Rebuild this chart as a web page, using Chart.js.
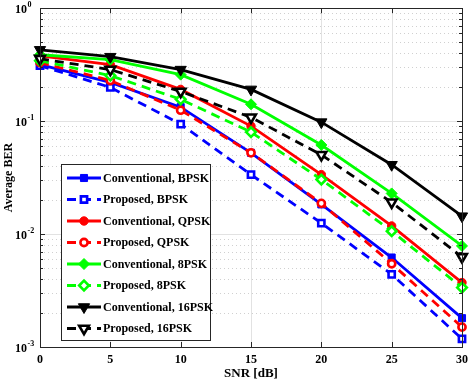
<!DOCTYPE html>
<html><head><meta charset="utf-8">
<script src="https://cdn.jsdelivr.net/npm/chart.js@4.4.0/dist/chart.umd.min.js"></script>
<style>html,body{margin:0;padding:0;background:#fff}#wrap{width:474px;height:382px}</style>
</head><body><div id="wrap"><canvas id="c" width="474" height="382"></canvas></div>
<script>
const snr = [0, 5, 10, 15, 20, 25, 30];
const convBPSK = [0.316, 0.22, 0.133, 0.0524, 0.0183, 0.0062, 0.0018];
const propBPSK = [0.31, 0.199, 0.094, 0.0336, 0.0125, 0.0044, 0.00118];
const convQPSK = [0.379, 0.316, 0.191, 0.0904, 0.0336, 0.0118, 0.00372];
const propQPSK = [0.33, 0.229, 0.125, 0.0524, 0.0187, 0.00546, 0.0015];
const conv8PSK = [0.387, 0.35, 0.258, 0.141, 0.0615, 0.0229, 0.00785];
const prop8PSK = [0.343, 0.253, 0.156, 0.080, 0.0304, 0.0106, 0.00336];
const conv16PSK = [0.428, 0.372, 0.286, 0.191, 0.098, 0.0411, 0.0144];
const prop16PSK = [0.357, 0.286, 0.183, 0.108, 0.0503, 0.0191, 0.00628];
const seriesNames = ['Conventional, BPSK','Proposed, BPSK','Conventional, QPSK','Proposed, QPSK','Conventional, 8PSK','Proposed, 8PSK','Conventional, 16PSK','Proposed, 16PSK'];
const xTickValues = [0, 5, 10, 15, 20, 25, 30];
const yDecadeValues = [1, 0.1, 0.01, 0.001];
const yDecadeExps = ['0', '-1', '-2', '-3'];

const FONT = '"Liberation Serif", "Times New Roman", serif';
const seriesData = [convBPSK, propBPSK, convQPSK, propQPSK, conv8PSK, prop8PSK, conv16PSK, prop16PSK];
const colors = ['#0000ff','#0000ff','#ff0000','#ff0000','#00ff00','#00ff00','#000000','#000000'];
const styles = ['rect','rect','circle','circle','rectRot','rectRot','triangle','triangle'];
const radii = [5,4.4,4.2,3.6,5.5,4.8,6.5,5.6];

const datasets = seriesData.map((d, i) => {
  const proposed = i % 2 === 1;
  return {
    label: seriesNames[i],
    data: snr.map((x, j) => ({x: x, y: d[j]})),
    borderColor: colors[i],
    backgroundColor: colors[i],
    borderWidth: 2.8,
    borderDash: proposed ? [9, 6] : [],
    pointStyle: styles[i],
    pointRotation: styles[i] === 'triangle' ? 180 : 0,
    pointRadius: radii[i],
    pointBorderWidth: proposed ? 2.6 : 1,
    pointBackgroundColor: proposed ? '#ffffff' : colors[i],
    pointBorderColor: colors[i],
    tension: 0,
    clip: false,
    order: -i
  };
});

const gridPlugin = {
  id: 'matlabGrid',
  beforeDatasetsDraw(chart) {
    const {ctx, chartArea: a, scales: {x, y}} = chart;
    ctx.save();
    ctx.lineWidth = 1;
    ctx.strokeStyle = '#d0d0d0';
    ctx.setLineDash([1, 3]);
    for (let e = -3; e < 0; e++) {
      for (let m = 2; m <= 9; m++) {
        const py = Math.round(y.getPixelForValue(m * Math.pow(10, e))) + 0.5;
        ctx.beginPath(); ctx.moveTo(a.left, py); ctx.lineTo(a.right, py); ctx.stroke();
      }
    }
    ctx.setLineDash([]);
    ctx.strokeStyle = '#e2e2e2';
    yDecadeValues.forEach(v => {
      const py = Math.round(y.getPixelForValue(v)) + 0.5;
      ctx.beginPath(); ctx.moveTo(a.left, py); ctx.lineTo(a.right, py); ctx.stroke();
    });
    xTickValues.forEach(v => {
      const px = Math.round(x.getPixelForValue(v)) + 0.5;
      ctx.beginPath(); ctx.moveTo(px, a.top); ctx.lineTo(px, a.bottom); ctx.stroke();
    });
    ctx.restore();
  },
  afterDatasetsDraw(chart) {
    const {ctx, chartArea: a, scales: {x, y}} = chart;
    ctx.save();
    ctx.strokeStyle = '#262626';
    ctx.lineWidth = 1;
    ctx.strokeRect(Math.round(a.left) + 0.5, Math.round(a.top) + 0.5, Math.round(a.right - a.left), Math.round(a.bottom - a.top));
    for (let e = -3; e <= 0; e++) {
      for (let m = 1; m <= 9; m++) {
        const v = m * Math.pow(10, e);
        if (v > 1) break;
        const py = Math.round(y.getPixelForValue(v)) + 0.5;
        const len = m === 1 ? 5 : 3;
        ctx.beginPath();
        ctx.moveTo(a.left, py); ctx.lineTo(a.left + len, py);
        ctx.moveTo(a.right, py); ctx.lineTo(a.right - len, py);
        ctx.stroke();
      }
    }
    xTickValues.forEach(v => {
      const px = Math.round(x.getPixelForValue(v)) + 0.5;
      ctx.beginPath();
      ctx.moveTo(px, a.bottom); ctx.lineTo(px, a.bottom - 5);
      ctx.moveTo(px, a.top); ctx.lineTo(px, a.top + 5);
      ctx.stroke();
    });
    ctx.fillStyle = '#000';
    ctx.textBaseline = 'middle';
    yDecadeValues.forEach((v, i) => {
      const py = y.getPixelForValue(v);
      ctx.font = 'bold 12px ' + FONT;
      ctx.textAlign = 'right';
      ctx.fillText('10', 27, py + 2);
      ctx.font = 'bold 8px ' + FONT;
      ctx.textAlign = 'left';
      ctx.fillText(yDecadeExps[i], 27.5, py - 3);
    });
    ctx.restore();
  },
  afterDraw(chart) {
    const ctx = chart.ctx;
    ctx.save();
    const bx = 61.5, by = 164.5, bw = 149, bh = 176;
    ctx.fillStyle = '#fff';
    ctx.fillRect(bx, by, bw, bh);
    ctx.strokeStyle = '#262626';
    ctx.lineWidth = 1;
    ctx.strokeRect(bx, by, bw, bh);
    chart.data.datasets.forEach((ds, i) => {
      const ly = 178 + i * 21.5;
      ctx.save();
      ctx.strokeStyle = ds.borderColor;
      ctx.lineWidth = ds.borderWidth;
      ctx.setLineDash(ds.borderDash);
      ctx.beginPath(); ctx.moveTo(67, ly); ctx.lineTo(101, ly); ctx.stroke();
      ctx.setLineDash([]);
      ctx.fillStyle = ds.pointBackgroundColor;
      ctx.strokeStyle = ds.pointBorderColor;
      ctx.lineWidth = ds.pointBorderWidth;
      Chart.helpers.drawPoint(ctx, {pointStyle: ds.pointStyle, radius: ds.pointRadius, rotation: ds.pointRotation, borderWidth: ds.pointBorderWidth}, 84, ly);
      ctx.restore();
      ctx.fillStyle = '#000';
      ctx.font = 'bold 12px ' + FONT;
      ctx.textAlign = 'left';
      ctx.textBaseline = 'middle';
      ctx.fillText(ds.label, 103, ly + 0.5);
    });
    ctx.restore();
  }
};

new Chart(document.getElementById('c'), {
  type: 'line',
  data: {datasets: datasets},
  options: {
    responsive: false,
    animation: false,
    devicePixelRatio: 1,
    layout: {padding: {top: 5, right: 7, left: 0, bottom: 0}},
    plugins: {legend: {display: false}, tooltip: {enabled: false}},
    scales: {
      x: {
        type: 'linear', min: 0, max: 30,
        afterBuildTicks: s => { s.ticks = xTickValues.map(v => ({value: v})); },
        ticks: {color: '#000', font: {family: FONT, size: 12, weight: 'bold'}, padding: 6, maxRotation: 0, autoSkip: false},
        grid: {display: false, drawTicks: false},
        border: {display: false},
        title: {display: true, text: 'SNR [dB]', color: '#000', font: {family: FONT, size: 13, weight: 'bold'}, padding: {top: 0, bottom: 1}},
        afterFit: s => { s.height = 35; }
      },
      y: {
        type: 'logarithmic', min: 0.001, max: 1,
        ticks: {display: false},
        grid: {display: false},
        border: {display: false},
        title: {display: true, text: 'Average BER', color: '#000', font: {family: FONT, size: 12, weight: 'bold'}, padding: {top: 2, bottom: 0}},
        afterFit: s => { s.width = 40; }
      }
    }
  },
  plugins: [gridPlugin]
});
</script></body></html>
